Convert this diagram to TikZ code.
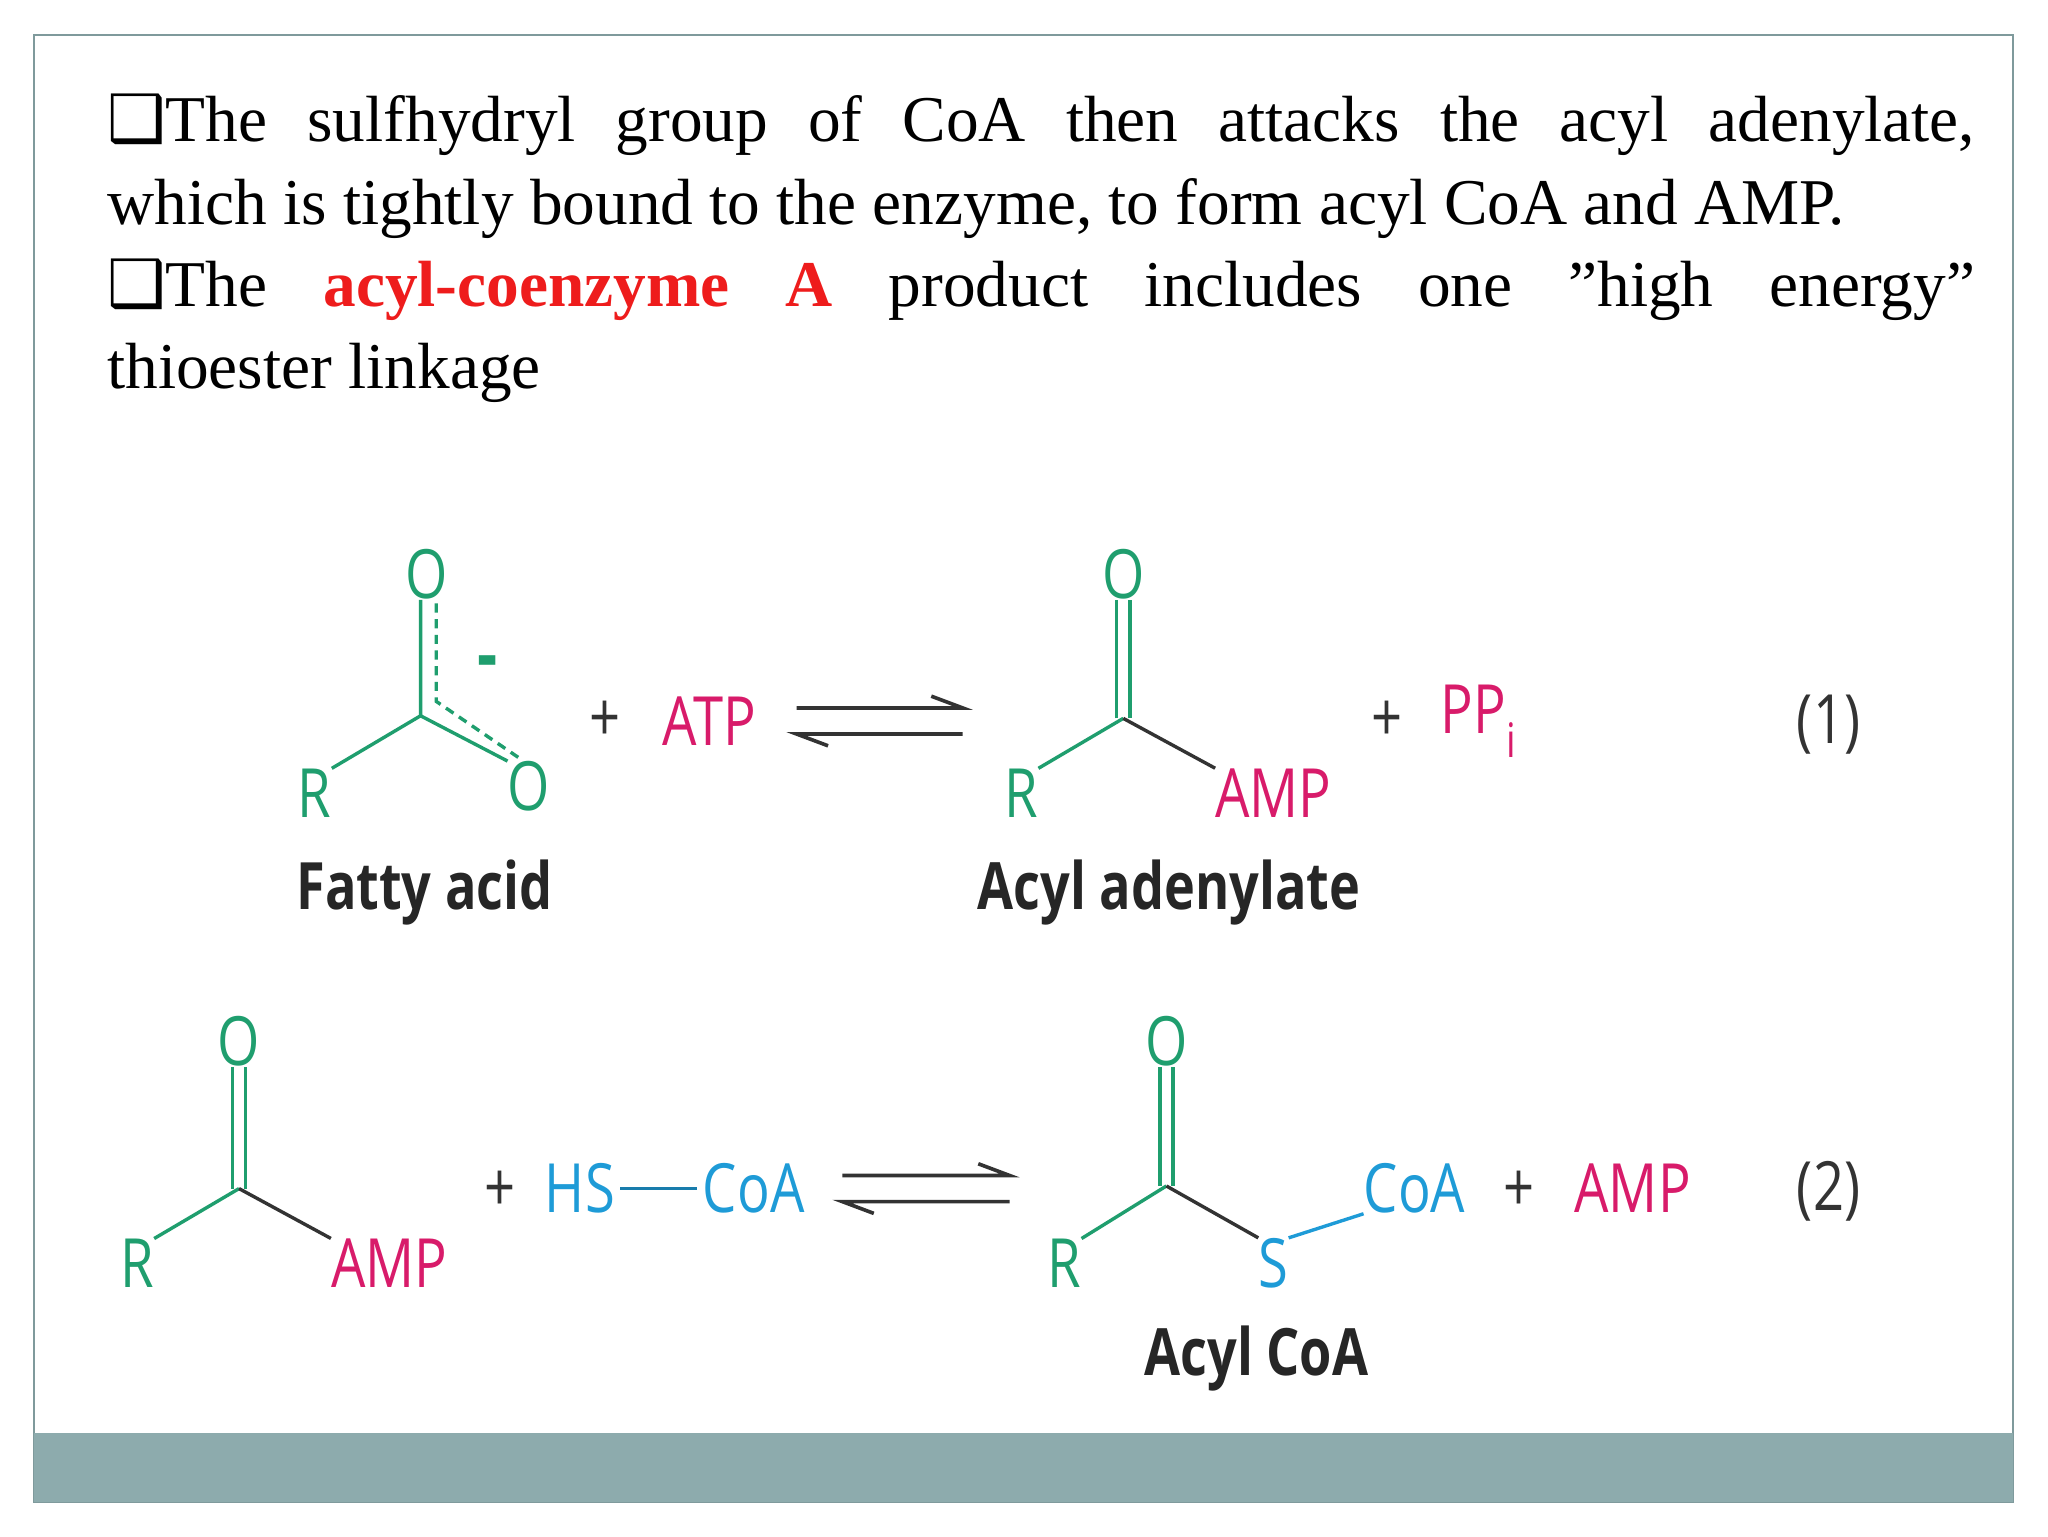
\documentclass[tikz,border=0pt]{standalone}
\usepackage{fontspec}
\setmainfont{Liberation Serif}
\newfontfamily\chem[FakeStretch=0.8]{Open Sans}
\newfontfamily\boxfont{DejaVu Sans}
\definecolor{grn}{HTML}{1F9E6E}
\definecolor{mag}{HTML}{D81B6A}
\definecolor{blu}{HTML}{1E9BD7}
\definecolor{barc}{HTML}{8DABAD}
\definecolor{redt}{HTML}{EE1C1C}
\begin{document}
\begin{tikzpicture}[x=1pt,y=-1pt,
  lab/.style={inner sep=0pt,font=\chem\fontsize{52}{56}\selectfont},
  cname/.style={inner sep=0pt,font=\chem\bfseries\fontsize{50}{56}\selectfont,text=black!85},
  bond/.style={line width=2.6pt},
  arr/.style={line width=2.8pt,black!80}]
\useasboundingbox (0,0) rectangle (1568,1176);
\fill[white] (0,0) rectangle (1568,1176);
\draw[barc!90!black,line width=1.5pt] (26,27) rectangle (1541,1150);
\fill[barc] (26,1097) rectangle (1541,1150);
\node[anchor=north west,inner sep=0pt,text width=1430pt,align=justify,
  font=\fontsize{50}{63}\selectfont] (txt) at (82,72)
 {{\boxfont\fontsize{50}{50}\selectfont ❑}The sulfhydryl group of CoA then attacks the acyl adenylate,\linebreak
 which is tightly bound to the enzyme, to form acyl CoA and AMP.\par
 {\boxfont\fontsize{50}{50}\selectfont ❑}The \textcolor{redt}{\textbf{acyl-coenzyme A}} product includes one \symbol{34}high energy\symbol{34}\linebreak
 thioester linkage};
% reaction 1 fatty acid
\node[lab,text=grn] (fo1) at (327,440) {O};
\node[lab,text=grn] (fr) at (241,607) {R};
\node[lab,text=grn] (fo2) at (405,602) {O};
\node[lab,text=grn,font=\chem\bfseries\fontsize{60}{60}\selectfont] (fm) at (373,512) {-};
\coordinate (fc) at (322,548);
\draw[bond,grn] (fr.north east) -- (fc) -- (fo1.south -| fc);
\draw[bond,grn] (fc) -- (fo2.north west);
\draw[bond,grn,dashed,dash pattern=on 7pt off 5pt] (334,462) -- (334,537) -- (397,580);
\node[cname] (fa) at (325,683) {Fatty acid};
\node[lab,text=black!80] (p1) at (463,552) {+};
\node[lab,text=mag] (atp) at (543,552) {ATP};
\coordinate (a1l) at (610,542); \coordinate (a1r) at (737,542);
\coordinate (b1l) at (610,562); \coordinate (b1r) at (737,562);
\draw[arr] (a1l) -- (a1r) -- ++(-24,-9);
\draw[arr] (b1r) -- (b1l) -- ++(24,9);
% acyl adenylate
\node[lab,text=grn] (ao) at (860,440) {O};
\node[lab,text=grn] (ar) at (782,607) {R};
\node[lab,text=mag] (aamp) at (975,607) {AMP};
\coordinate (ac) at (860,550);
\draw[bond,grn] (ar.north east) -- (ac);
\draw[bond,grn] (855,550) -- (855,459) (865,550) -- (865,459);
\draw[bond,black!80] (ac) -- (aamp.north west);
\node[cname] (an) at (895,683) {Acyl adenylate};
\node[lab,text=black!80] (p2) at (1062,552) {+};
\node[lab,text=mag,anchor=west] (ppi) at (1103,552) {PP\textsubscript{i}};
\node[lab,text=black!80] (n1) at (1400,555) {(1)};
% reaction 2
\node[lab,text=grn] (bo) at (183,797) {O};
\node[lab,text=grn] (br) at (105,967) {R};
\node[lab,text=mag] (bamp) at (298,967) {AMP};
\coordinate (bc) at (183,910);
\draw[bond,grn] (br.north east) -- (bc);
\draw[bond,grn] (178,910) -- (178,817) (188,910) -- (188,817);
\draw[bond,black!80] (bc) -- (bamp.north west);
\node[lab,text=black!80] (p3) at (383,912) {+};
\node[lab,text=blu] (hs) at (444,910) {HS};
\node[lab,text=blu] (hcoa) at (577,910) {CoA};
\draw[bond,blu!80!black] ([xshift=4pt]hs.east) -- ([xshift=-4pt]hcoa.west);
\coordinate (a2l) at (645,900); \coordinate (a2r) at (773,900);
\coordinate (b2l) at (645,920); \coordinate (b2r) at (773,920);
\draw[arr] (a2l) -- (a2r) -- ++(-24,-9);
\draw[arr] (b2r) -- (b2l) -- ++(24,9);
\node[lab,text=grn] (co) at (893,797) {O};
\node[lab,text=grn] (cr) at (815,967) {R};
\node[lab,text=blu] (cs) at (975,967) {S};
\node[lab,text=blu] (ccoa) at (1083,910) {CoA};
\coordinate (cc) at (893,908);
\draw[bond,grn] (cr.north east) -- (cc);
\draw[bond,grn] (888,908) -- (888,817) (898,908) -- (898,817);
\draw[bond,black!80] (cc) -- (cs.north west);
\draw[bond,blu] (cs.north east) -- (ccoa.south west);
\node[lab,text=black!80] (p4) at (1163,912) {+};
\node[lab,text=mag] (camp) at (1250,910) {AMP};
\node[lab,text=black!80] (n2) at (1400,912) {(2)};
\node[cname] (cn) at (962,1040) {Acyl CoA};
\end{tikzpicture}
\end{document}
